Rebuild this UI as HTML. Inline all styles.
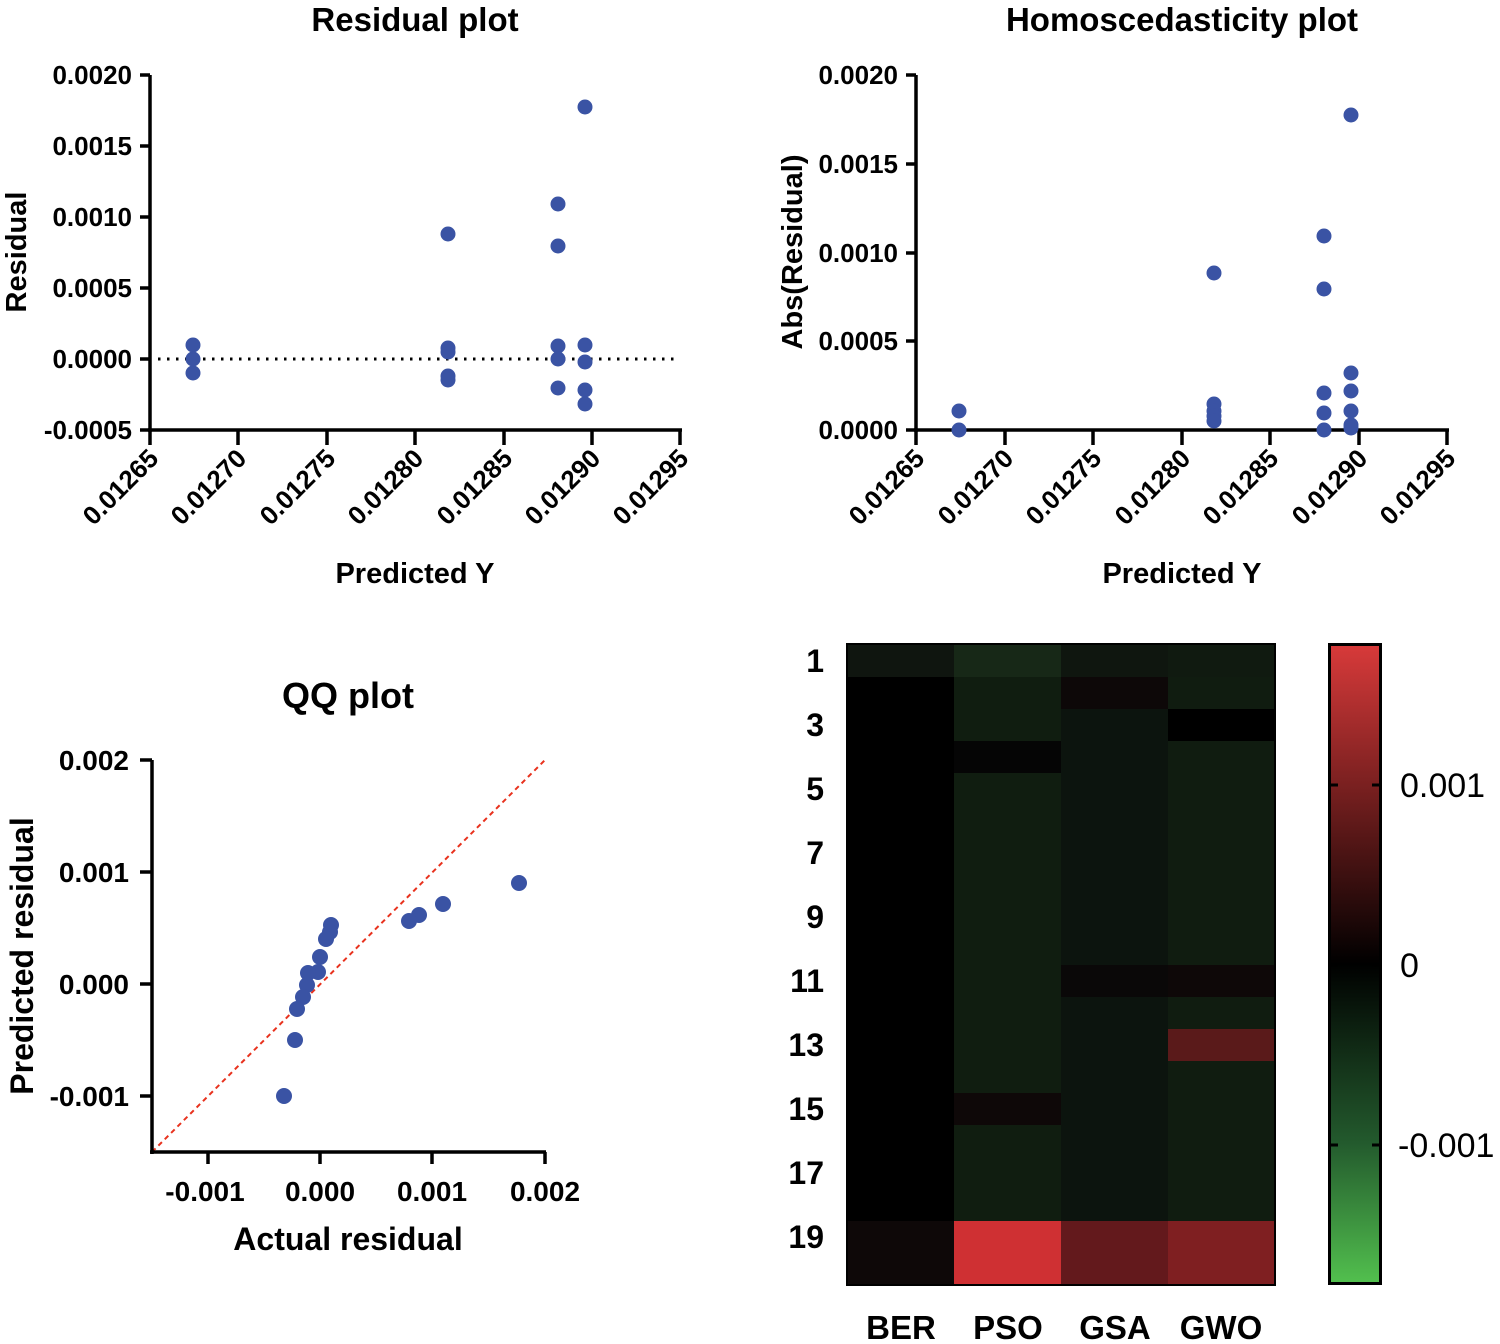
<!DOCTYPE html>
<html><head><meta charset="utf-8"><style>
body{margin:0;background:#fff}
svg{display:block;font-family:"Liberation Sans",Arial,sans-serif}
</style></head><body>
<svg width="1500" height="1344" viewBox="0 0 1500 1344" xmlns="http://www.w3.org/2000/svg">
<defs>
<linearGradient id="cb" x1="0" y1="0" x2="0" y2="1">
<stop offset="0" stop-color="#d83a3a"/>
<stop offset="0.22" stop-color="#7a2020"/>
<stop offset="0.5" stop-color="#000"/>
<stop offset="0.78" stop-color="#235a2d"/>
<stop offset="1" stop-color="#52c04e"/>
</linearGradient>
</defs>
<g fill="#000" font-weight="bold">
<!-- Residual plot -->
<text x="415" y="31" font-size="33" text-anchor="middle">Residual plot</text>
<g stroke="#000" stroke-width="3.5" fill="none">
<path d="M150 75V432M148 430H682"/>
<path d="M140 75H150M140 146H150M140 217H150M140 288H150M140 359H150M140 430H150"/>
<path d="M150 430V445M238 430V445M327 430V445M415 430V445M504 430V445M592 430V445M680 430V445"/>
</g>
<path d="M158 359H675" stroke="#000" stroke-width="3" stroke-dasharray="2.5 6.5" fill="none"/>
<g font-size="26" text-anchor="end">
<text x="132" y="84">0.0020</text><text x="132" y="155">0.0015</text><text x="132" y="226">0.0010</text><text x="132" y="297">0.0005</text><text x="132" y="368">0.0000</text><text x="132" y="439">-0.0005</text>
</g>
<g font-size="26" text-anchor="end">
<text transform="translate(160,460) rotate(-45)">0.01265</text>
<text transform="translate(248,460) rotate(-45)">0.01270</text>
<text transform="translate(337,460) rotate(-45)">0.01275</text>
<text transform="translate(425,460) rotate(-45)">0.01280</text>
<text transform="translate(514,460) rotate(-45)">0.01285</text>
<text transform="translate(602,460) rotate(-45)">0.01290</text>
<text transform="translate(690,460) rotate(-45)">0.01295</text>
</g>
<text x="415" y="583" font-size="29" text-anchor="middle">Predicted Y</text>
<text transform="translate(26,252) rotate(-90)" font-size="29" text-anchor="middle">Residual</text>
<g fill="#3a53a4">
<circle cx="193" cy="345" r="7.5"/><circle cx="193" cy="359" r="7.5"/><circle cx="193" cy="373" r="7.5"/>
<circle cx="448" cy="234" r="7.5"/><circle cx="448" cy="348" r="7.5"/><circle cx="448" cy="352" r="7.5"/><circle cx="448" cy="376" r="7.5"/><circle cx="448" cy="380" r="7.5"/>
<circle cx="558" cy="204" r="7.5"/><circle cx="558" cy="246" r="7.5"/><circle cx="558" cy="346" r="7.5"/><circle cx="558" cy="359" r="7.5"/><circle cx="558" cy="388" r="7.5"/>
<circle cx="585" cy="107" r="7.5"/><circle cx="585" cy="345" r="7.5"/><circle cx="585" cy="362" r="7.5"/><circle cx="585" cy="390" r="7.5"/><circle cx="585" cy="404" r="7.5"/>
</g>
<!-- Homoscedasticity -->
<text x="1182" y="31" font-size="33" text-anchor="middle">Homoscedasticity plot</text>
<g stroke="#000" stroke-width="3.5" fill="none">
<path d="M916 75V432M914 430H1449"/>
<path d="M906 75H916M906 164H916M906 253H916M906 341H916M906 430H916"/>
<path d="M916 430V445M1005 430V445M1093 430V445M1182 430V445M1270 430V445M1359 430V445M1447 430V445"/>
</g>
<g font-size="26" text-anchor="end">
<text x="898" y="84">0.0020</text><text x="898" y="173">0.0015</text><text x="898" y="262">0.0010</text><text x="898" y="350">0.0005</text><text x="898" y="439">0.0000</text>
</g>
<g font-size="26" text-anchor="end">
<text transform="translate(926,460) rotate(-45)">0.01265</text>
<text transform="translate(1015,460) rotate(-45)">0.01270</text>
<text transform="translate(1103,460) rotate(-45)">0.01275</text>
<text transform="translate(1192,460) rotate(-45)">0.01280</text>
<text transform="translate(1280,460) rotate(-45)">0.01285</text>
<text transform="translate(1369,460) rotate(-45)">0.01290</text>
<text transform="translate(1457,460) rotate(-45)">0.01295</text>
</g>
<text x="1182" y="583" font-size="29" text-anchor="middle">Predicted Y</text>
<text transform="translate(802,252) rotate(-90)" font-size="29" text-anchor="middle">Abs(Residual)</text>
<g fill="#3a53a4">
<circle cx="959" cy="411" r="7.5"/><circle cx="959" cy="430" r="7.5"/>
<circle cx="1214" cy="273" r="7.5"/><circle cx="1214" cy="404" r="7.5"/><circle cx="1214" cy="411" r="7.5"/><circle cx="1214" cy="416" r="7.5"/><circle cx="1214" cy="421" r="7.5"/>
<circle cx="1324" cy="236" r="7.5"/><circle cx="1324" cy="289" r="7.5"/><circle cx="1324" cy="393" r="7.5"/><circle cx="1324" cy="413" r="7.5"/><circle cx="1324" cy="430" r="7.5"/>
<circle cx="1351" cy="115" r="7.5"/><circle cx="1351" cy="373" r="7.5"/><circle cx="1351" cy="391" r="7.5"/><circle cx="1351" cy="411" r="7.5"/><circle cx="1351" cy="425" r="7.5"/><circle cx="1351" cy="428" r="7.5"/>
</g>
<!-- QQ plot -->
<text x="348" y="708" font-size="36" text-anchor="middle">QQ plot</text>
<path d="M152 1152L545 760" stroke="#e8321e" stroke-width="2" stroke-dasharray="5 4" fill="none"/>
<g stroke="#000" stroke-width="3.5" fill="none">
<path d="M152 760V1154M150 1152H546"/>
<path d="M140 760H152M140 872H152M140 984H152M140 1096H152"/>
<path d="M208 1152V1164M320 1152V1164M432 1152V1164M545 1152V1164"/>
</g>
<g font-size="28" text-anchor="end">
<text x="129" y="770">0.002</text><text x="129" y="882">0.001</text><text x="129" y="994">0.000</text><text x="129" y="1106">-0.001</text>
</g>
<g font-size="28" text-anchor="middle">
<text x="205" y="1201">-0.001</text><text x="320" y="1201">0.000</text><text x="432" y="1201">0.001</text><text x="545" y="1201">0.002</text>
</g>
<text x="348" y="1250" font-size="32" text-anchor="middle">Actual residual</text>
<text transform="translate(33,956) rotate(-90)" font-size="32" text-anchor="middle">Predicted residual</text>
<g fill="#3a53a4">
<circle cx="519" cy="883" r="8"/><circle cx="443" cy="904" r="8"/><circle cx="419" cy="915" r="8"/><circle cx="409" cy="921" r="8"/>
<circle cx="331" cy="925" r="8"/><circle cx="330" cy="932" r="8"/><circle cx="326" cy="939" r="8"/><circle cx="320" cy="957" r="8"/>
<circle cx="318" cy="972" r="8"/><circle cx="308" cy="973" r="8"/><circle cx="307" cy="985" r="8"/><circle cx="303" cy="997" r="8"/>
<circle cx="297" cy="1009" r="8"/><circle cx="295" cy="1040" r="8"/><circle cx="284" cy="1096" r="8"/>
</g>
<!-- Heatmap -->
<rect x="846" y="643" width="430" height="643" fill="#000"/>
<g>
<rect x="954" y="645" width="107" height="576" fill="#101d10"/>
<rect x="1061" y="645" width="107" height="576" fill="#0c140e"/>
<rect x="1168" y="645" width="106" height="576" fill="#101c10"/>
<rect x="848" y="645" width="106" height="32" fill="#0f150f"/>
<rect x="954" y="645" width="107" height="32" fill="#172817"/>
<rect x="1061" y="645" width="107" height="32" fill="#0f160f"/>
<rect x="1168" y="645" width="106" height="32" fill="#101a10"/>
<rect x="1061" y="677" width="107" height="32" fill="#0d0808"/>
<rect x="1168" y="709" width="106" height="32" fill="#000"/>
<rect x="954" y="741" width="107" height="32" fill="#050505"/>
<rect x="1061" y="965" width="107" height="32" fill="#0a0808"/>
<rect x="1168" y="965" width="106" height="32" fill="#0e0808"/>
<rect x="1168" y="1029" width="106" height="32" fill="#5a1a1a"/>
<rect x="954" y="1093" width="107" height="32" fill="#0e0808"/>
<rect x="848" y="1221" width="106" height="63" fill="#0e0808"/>
<rect x="954" y="1221" width="107" height="63" fill="#cf3033"/>
<rect x="1061" y="1221" width="107" height="63" fill="#63191c"/>
<rect x="1168" y="1221" width="106" height="63" fill="#7f1f21"/>
</g>
<g font-size="32" text-anchor="end">
<text x="824" y="672">1</text><text x="824" y="736">3</text><text x="824" y="800">5</text><text x="824" y="864">7</text><text x="824" y="928">9</text>
<text x="824" y="992">11</text><text x="824" y="1056">13</text><text x="824" y="1120">15</text><text x="824" y="1184">17</text><text x="824" y="1248">19</text>
</g>
<g font-size="33" text-anchor="middle">
<text x="901" y="1339">BER</text><text x="1008" y="1339">PSO</text><text x="1115" y="1339">GSA</text><text x="1221" y="1339">GWO</text>
</g>
<rect x="1329.5" y="644.5" width="51" height="639" fill="url(#cb)" stroke="#000" stroke-width="3"/>
<g stroke="#000" stroke-width="3">
<path d="M1329 785H1338M1372 785H1381M1329 965H1338M1372 965H1381M1329 1145H1338M1372 1145H1381"/>
</g>
<g font-size="34" font-weight="normal">
<text x="1400" y="797">0.001</text><text x="1400" y="977">0</text><text x="1398" y="1157">-0.001</text>
</g>
</g>
</svg>
</body></html>
